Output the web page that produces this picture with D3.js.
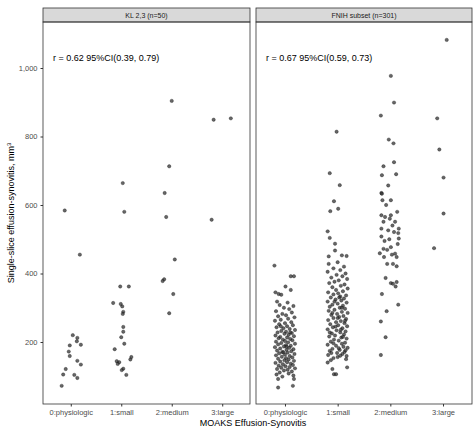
<!DOCTYPE html>
<html><head><meta charset="utf-8">
<script src="https://cdn.jsdelivr.net/npm/d3@7"></script>
<style>body{margin:0;background:#fff}text{font-family:"Liberation Sans",Arial,sans-serif}</style>
</head><body><svg id="c" width="474" height="431"></svg>
<script>
const categories = ["0:physiologic", "1:small", "2:medium", "3:large"];
const yTicks = [200, 400, 600, 800, 1000];
const panels = ["KL 2,3 (n=50)", "FNIH subset (n=301)"];
const labels = ["r = 0.62  95%CI(0.39, 0.79)", "r = 0.67  95%CI(0.59, 0.73)"];

// [category, jitter offset, value]
const klPoints = [
  [0,-0.12,584],[0,0.18,455],[0,0.04,220],[0,0.13,212],[0,0.12,202],[0,0.2,192],[0,-0.02,190],[0,-0.04,172],
  [0,-0.02,159],[0,0.13,145],[0,0.2,134],[0,-0.1,121],[0,-0.15,105],[0,0.07,104],[0,0.13,95],[0,-0.18,72],
  [1,0.03,664],[1,0.06,580],[1,-0.02,362],[1,0.15,362],[1,-0.16,314],[1,-0.01,311],[1,0.02,304],[1,0.04,288],
  [1,0.03,282],[1,0.04,244],[1,0.04,230],[1,0,214],[1,0.06,195],[1,-0.13,179],[1,-0.09,144],[1,-0.04,141],
  [1,-0.07,136],[1,0.2,156],[1,0.18,149],[1,0.04,122],[1,0.01,118],[1,0.1,104],
  [2,0,904],[2,-0.05,713],[2,-0.14,635],[2,-0.11,565],[2,0.06,441],[2,-0.15,383],[2,-0.18,378],[2,0.03,340],[2,-0.05,284],
  [3,-0.17,849],[3,0.17,853],[3,-0.21,557]
];

const fnih0 = [
  [-0.2,423],[0.11,392],[0.17,392],[0.01,362],[-0.18,345],[-0.12,340],[-0.07,338],[0.11,352],
  [-0.15,318],[0.05,315],[-0.1,308],[0.16,305],[-0.02,300],[0.08,296],[-0.17,290],[0.13,286],
  [-0.05,282],[0.02,278],[-0.13,275],[0.18,272],[0.06,268],[-0.08,265],[-0.19,262],[0.12,258],
  [0.0,255],[-0.11,252],[0.15,249],[0.04,246],[-0.16,243],[-0.03,240],[0.09,238],[0.19,235],
  [-0.07,232],[0.02,230],[-0.14,228],[0.13,226],[-0.01,224],[0.07,221],[-0.18,219],[0.17,217],
  [-0.09,215],[0.04,213],[-0.12,211],[0.1,209],[-0.04,207],[0.14,205],[0.0,203],[-0.17,201],
  [0.06,199],[-0.07,197],[0.19,195],[-0.13,193],[0.02,191],[0.11,189],[-0.02,187],[-0.19,185],
  [0.08,183],[-0.09,181],[0.16,179],[0.03,177],[-0.15,175],[0.12,173],[-0.05,171],[0.05,169],
  [-0.11,167],[0.18,165],[0.0,163],[-0.17,161],[0.09,159],[-0.06,157],[0.14,155],[0.02,153],
  [-0.13,151],[0.07,149],[-0.01,147],[0.17,145],[-0.09,143],[0.04,141],[-0.18,139],[0.11,137],
  [-0.04,135],[0.15,133],[-0.12,131],[0.01,129],[0.09,127],[-0.07,125],[0.19,123],[-0.15,121],
  [0.05,119],[-0.02,117],[0.13,114],[-0.1,111],[0.07,108],[-0.16,105],[0.16,102],[-0.05,99],
  [-0.13,92],[0.17,92],[0.15,72],[-0.13,67],[0.03,186],[-0.08,246],[0.1,228],[-0.03,170]
];

const fnih1 = [
  [-0.02,814],[-0.15,693],[0.04,658],[-0.07,611],[-0.14,582],[0.01,589],[-0.19,523],[-0.15,504],
  [-0.05,487],[-0.05,467],[0.08,453],[0.17,451],[-0.17,450],[0.0,433],[-0.17,428],[0.12,420],
  [-0.08,415],[0.05,410],[-0.19,405],[0.15,400],[-0.02,396],[0.09,392],[-0.12,388],[0.18,384],
  [0.02,380],[-0.06,376],[-0.16,372],[0.13,368],[0.06,364],[-0.1,360],[0.19,356],[-0.03,352],
  [0.1,348],[-0.18,345],[0.01,342],[-0.08,339],[0.16,336],[0.05,333],[-0.13,330],[0.12,327],
  [-0.04,324],[0.07,321],[-0.19,318],[0.17,315],[0.0,312],[-0.1,309],[0.1,306],[-0.15,303],
  [0.04,300],[0.14,297],[-0.06,294],[-0.17,291],[0.08,288],[0.19,285],[-0.01,282],[-0.12,279],
  [0.11,276],[0.03,273],[-0.08,270],[0.16,267],[-0.18,264],[0.06,261],[-0.03,258],[0.13,255],
  [-0.14,252],[0.01,249],[0.18,246],[-0.09,243],[0.09,240],[-0.19,237],[-0.02,234],[0.15,231],
  [0.05,228],[-0.11,225],[0.12,222],[-0.05,219],[-0.16,216],[0.07,213],[0.17,210],[-0.07,207],
  [0.02,204],[-0.13,201],[0.14,198],[0.08,195],[-0.19,192],[-0.03,189],[0.11,186],[0.19,183],
  [-0.1,180],[0.04,177],[-0.15,174],[0.13,171],[-0.01,168],[0.09,165],[-0.18,162],[0.17,159],
  [0.0,156],[-0.08,153],[0.16,150],[-0.13,147],[-0.19,140],[0.18,126],[-0.1,121],[-0.07,106],
  [-0.03,106],[0.03,330],[-0.06,318],[0.08,300],[-0.1,285],[0.0,270],[0.14,262],[-0.04,245],
  [0.06,236],[-0.15,228],[0.1,215],[-0.08,196],[0.02,182],[0.15,176],[-0.12,168],[0.05,160]
];

const fnih2 = [
  [0.01,977],[0.07,899],[-0.18,861],[-0.03,791],[0.06,780],[-0.13,713],[0.07,725],[-0.16,687],
  [0.11,690],[-0.04,657],[-0.17,635],[-0.16,633],[-0.15,614],[0.01,614],[-0.17,570],[0.01,570],
  [-0.1,565],[-0.01,560],[-0.13,551],[0.09,551],[-0.17,531],[-0.04,526],[0.07,521],[0.16,531],
  [0.15,518],[-0.17,508],[0.16,502],[0.14,486],[0.01,477],[-0.13,472],[-0.2,459],[-0.06,469],
  [-0.12,448],[0.09,458],[0.12,448],[-0.06,428],[0.05,428],[0.12,421],[-0.09,387],[0.12,375],
  [0.01,372],[0.05,370],[0.1,362],[-0.16,340],[0.15,309],[-0.07,290],[-0.18,260],[-0.09,214],[-0.18,162],
  [-0.02,500],[0.04,540],[-0.08,600],[0.13,580],[-0.11,495],[0.03,455]
];

const fnih3 = [[0.07,1082],[-0.11,853],[-0.07,762],[0.01,680],[0.01,575],[-0.17,474]];

const fnihPoints = [
  ...fnih0.map(d => [0, ...d]), ...fnih1.map(d => [1, ...d]),
  ...fnih2.map(d => [2, ...d]), ...fnih3.map(d => [3, ...d])
];
const panelData = [klPoints, fnihPoints];

const svg = d3.select("#c");
const panelTop = 22, panelBottom = 404;
const panelX = [[43, 250], [256, 472]];
const y = d3.scaleLinear().domain([0, 1000]).range([410.5, 68]);

panelX.forEach(([x0, x1], i) => {
  const x = d3.scalePoint().domain(d3.range(4)).range([x0, x1]).padding(0.55);
  const g = svg.append("g");
  g.append("rect").attr("x", x0).attr("y", 8).attr("width", x1 - x0).attr("height", panelTop - 8)
    .attr("fill", "#d9d9d9").attr("stroke", "#333").attr("stroke-width", 0.8);
  g.append("text").attr("x", (x0 + x1) / 2).attr("y", 18).attr("text-anchor", "middle")
    .attr("font-size", 7).attr("fill", "#1a1a1a").text(panels[i]);
  g.append("rect").attr("x", x0).attr("y", panelTop).attr("width", x1 - x0).attr("height", panelBottom - panelTop)
    .attr("fill", "none").attr("stroke", "#333").attr("stroke-width", 0.8);

  const xa = g.append("g").attr("transform", `translate(0,${panelBottom})`)
    .call(d3.axisBottom(x).tickFormat(d => categories[d]).tickSize(2.5).tickSizeOuter(0));
  xa.select(".domain").remove();
  xa.selectAll("line").attr("stroke", "#333");
  xa.selectAll("text").attr("font-size", 7.5).attr("fill", "#4d4d4d");

  if (i === 0) {
    const ya = g.append("g").attr("transform", `translate(${x0},0)`)
      .call(d3.axisLeft(y).tickValues(yTicks).tickSize(2.5));
    ya.select(".domain").remove();
    ya.selectAll("line").attr("stroke", "#333");
    ya.selectAll("text").attr("font-size", 7.5).attr("fill", "#4d4d4d");
  }

  g.append("text").attr("x", x0 + 10).attr("y", 61).attr("font-size", 9).attr("fill", "#000").text(labels[i]);

  g.selectAll("circle").data(panelData[i]).join("circle")
    .attr("cx", d => x(d[0]) + d[1] * x.step())
    .attr("cy", d => y(d[2]))
    .attr("r", 1.7)
    .attr("fill", "#333").attr("fill-opacity", 0.75)
    .attr("stroke", "#000").attr("stroke-width", 0.3);
});

svg.append("text").attr("x", 253).attr("y", 426).attr("text-anchor", "middle")
  .attr("font-size", 9).attr("fill", "#000").text("MOAKS Effusion-Synovitis");
svg.append("text").attr("transform", "translate(14,213) rotate(-90)").attr("text-anchor", "middle")
  .attr("font-size", 9).attr("fill", "#000")
  .html('Single-slice effusion-synovitis, mm<tspan dy="-3" font-size="6">3</tspan>');
</script></body></html>
